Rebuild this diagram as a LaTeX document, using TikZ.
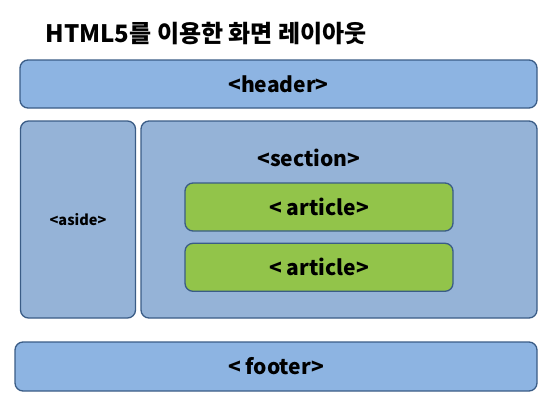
\documentclass[tikz,border=0pt]{standalone}
\usepackage{fontspec}
\setmainfont{Noto Sans CJK KR}
\usepackage{tikz}
\usetikzlibrary{positioning}
\definecolor{boxblue}{RGB}{141,180,226}
\definecolor{areablue}{RGB}{149,179,215}
\definecolor{artgreen}{RGB}{146,196,74}
\definecolor{edgeblue}{RGB}{58,92,134}

\begin{document}
\begin{tikzpicture}[x=1pt, y=-1pt,
  layoutbox/.style={draw=edgeblue, line width=1.3pt, rounded corners=8pt, inner sep=0pt, font=\fontsize{21}{24}\selectfont\bfseries},
  articlebox/.style={layoutbox, fill=artgreen, minimum width=268pt, minimum height=48pt}]
\useasboundingbox (0,0) rectangle (553,402);
% title
\node[anchor=west, font=\fontsize{24}{28}\selectfont\bfseries] (title) at (42,34) {HTML5를 이용한 화면 레이아웃};

% header / aside / section
\node[layoutbox, fill=boxblue, minimum width=517pt, minimum height=48pt] (header) at (278.5,84) {<header>};
\node[layoutbox, fill=areablue, minimum width=115pt, minimum height=197pt, font=\fontsize{14.5}{16}\selectfont\bfseries] (aside) at (78,219.5) {<aside>};
\node[layoutbox, fill=areablue, minimum width=396pt, minimum height=197pt] (section) at (339,219.5) {};
\node[font=\fontsize{21}{24}\selectfont\bfseries] (sectionlbl) at (309,158) {<section>};

% articles
\node[articlebox] (article1) at (319,207) {<~article>};
\node[articlebox, below=11pt of article1] (article2) {<~article>};

% footer
\node[layoutbox, fill=boxblue, minimum width=522pt, minimum height=49pt] (footer) at (276,366.5) {<~footer>};
\end{tikzpicture}
\end{document}
